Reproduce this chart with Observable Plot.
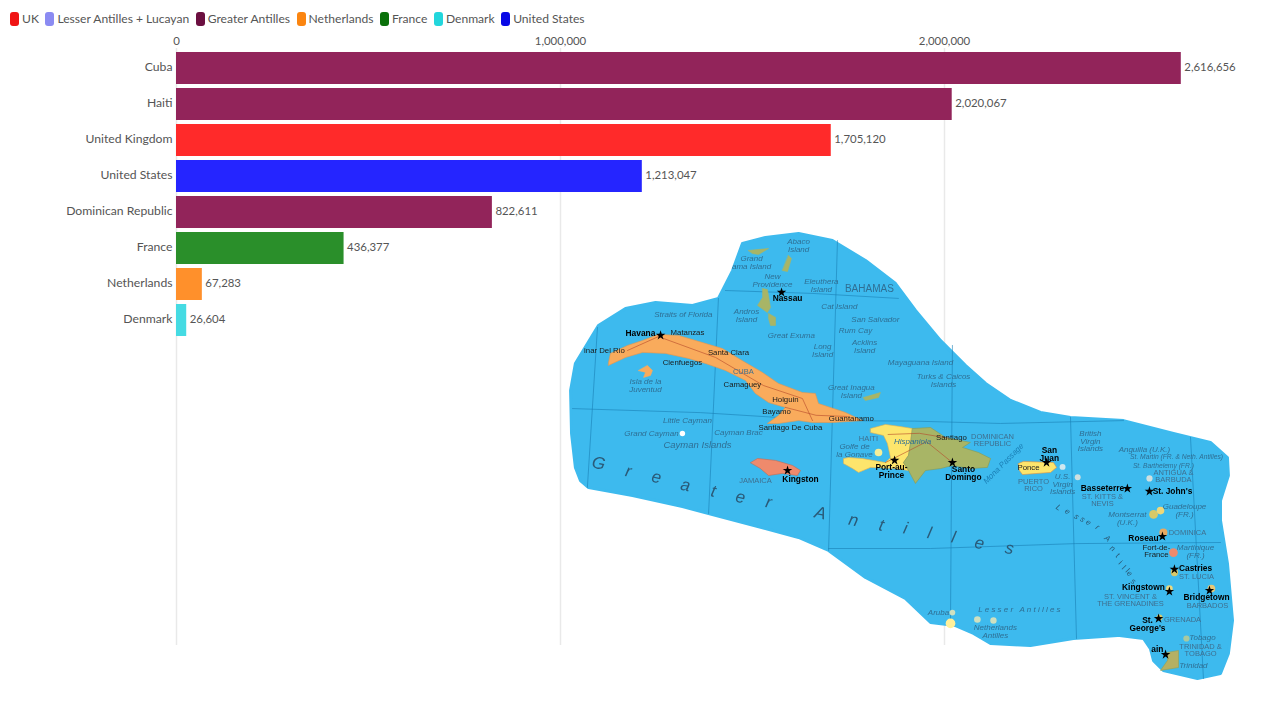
<!DOCTYPE html>
<html><head><meta charset="utf-8">
<style>
html,body{margin:0;padding:0;background:#fff;width:1280px;height:720px;overflow:hidden}
#legend{height:30px;box-sizing:border-box;padding:11px 0 0 10px;display:flex;font:12.1px Lato,sans-serif;color:#555;line-height:16px;transform:translateY(-2px)}
#legend span.i{display:flex;align-items:center;margin-right:6.5px}
#legend b{display:inline-block;width:9px;height:14px;border-radius:3px;margin-right:3px}
#wrap{position:relative;width:1280px;height:690px}
#map{position:absolute;left:0;top:-30px;pointer-events:none;filter:blur(0.25px)}
</style>
<script src="https://cdn.jsdelivr.net/npm/d3@7"></script>
<script src="https://cdn.jsdelivr.net/npm/@observablehq/plot@0.6"></script>
</head><body>
<div id="legend"></div>
<div id="wrap"><div id="chart"></div><div id="map"></div></div>
<script>
// ---------- bar chart data ----------
const countries = ["Cuba","Haiti","United Kingdom","United States","Dominican Republic","France","Netherlands","Denmark"];
const populations = [2616656,2020067,1705120,1213047,822611,436377,67283,26604];
const groups = ["Greater Antilles","Greater Antilles","UK","United States","Greater Antilles","France","Netherlands","Denmark"];
const legendNames = ["UK","Lesser Antilles + Lucayan","Greater Antilles","Netherlands","France","Denmark","United States"];
const legendColors = ["#f01414","#8b8bf2","#6b0f40","#fb8510","#0a700a","#22d6dc","#0808e6"];
const barColors = ["#ff2a2a","#9a9af5","#92245a","#ff902b","#2a8f2a","#45dbe3","#2525ff"];
const axisTicks = [0,1000000,2000000];

// ---------- map data, degrees [lon, lat] ----------
const seaOutline = [[-78.67,27.46],[-77.71,27.71],[-76.33,27.88],[-74.92,27.58],[-73.54,26.75],[-72.29,25.79],[-71.46,24.67],[-70.42,23.42],[-69.38,22.38],[-68.54,21.63],[-67.5,20.92],[-66.25,20.42],[-65,20.21],[-62.79,20.08],[-60.71,19.54],[-59.17,19.17],[-58.46,18.54],[-58.42,17.79],[-58.75,16.75],[-58.75,15.92],[-58.46,14.13],[-58.25,11.75],[-58.42,10.38],[-58.75,9.54],[-59.71,9.33],[-61.13,9.67],[-61.54,10.08],[-61.67,10.58],[-61.96,11],[-63.04,11.13],[-64.88,11],[-66.67,10.71],[-68.33,10.79],[-69.04,11.21],[-69.79,11.54],[-70.83,11.67],[-71.88,12.67],[-73.54,13.54],[-75.08,14.67],[-76.33,15.21],[-77.71,15.58],[-80.08,16.21],[-81.17,16.5],[-83.25,16.96],[-85.08,17.29],[-85.42,17.58],[-85.63,18.13],[-85.79,19.54],[-85.83,21.33],[-85.63,22.46],[-84.67,24.04],[-83.54,24.75],[-82.29,25],[-80.75,24.88],[-79.67,25.17],[-79.08,26.33]];
const cuba = [[-84.25,22.5],[-84.17,22.88],[-83.46,23.21],[-82.83,23.42],[-82.17,23.67],[-81.33,23.63],[-80.33,23.33],[-79.5,23.08],[-78.83,22.67],[-77.83,22.08],[-77.17,21.63],[-76.17,21.25],[-75.63,21.21],[-75.5,20.79],[-74.38,20.42],[-73.67,20.08],[-74.92,20],[-75.75,20],[-76.33,20.08],[-77.17,19.96],[-77.63,19.96],[-77.17,20.29],[-76.88,20.63],[-77.58,20.83],[-78.13,21.21],[-78.54,21.75],[-79.38,22.17],[-80.21,22.46],[-80.92,22.67],[-81.88,22.88],[-82.83,22.92],[-83.54,22.71],[-84.25,22.38]];
const juventud = [[-83,22.17],[-82.63,22.38],[-82.42,22.17],[-82.5,21.96],[-82.79,21.88],[-82.71,22.08]];
const jamaica = [[-78.33,18.33],[-78.04,18.5],[-77.29,18.42],[-76.58,18.21],[-76.25,18],[-76.38,17.79],[-77,17.88],[-77.58,17.79],[-77.92,18.08]];
const haiti = [[-73.33,19.75],[-72.71,19.92],[-72.08,19.83],[-71.58,19.75],[-71.67,19.13],[-71.75,18.63],[-71.96,18.33],[-71.75,18],[-72.29,18.08],[-73.33,18.13],[-73.83,17.92],[-74.08,18.08],[-74.46,18.29],[-74.46,18.5],[-74.25,18.54],[-73.67,18.5],[-72.71,18.33],[-72.5,18.54],[-72.63,19.13],[-72.79,19.46],[-73.33,19.58]];
const dominican = [[-71.58,19.75],[-70.83,19.79],[-70.21,19.38],[-69.17,19.17],[-69.5,18.96],[-68.83,18.75],[-68.33,18.5],[-68.46,18.13],[-69.17,18.08],[-69.92,18.21],[-70.42,18.08],[-71.04,18],[-71.46,17.46],[-71.75,18],[-71.96,18.33],[-71.75,18.63],[-71.67,19.13]];
const puertoRico = [[-67.17,18.29],[-66.96,18.38],[-65.71,18.33],[-65.58,18.13],[-65.83,17.92],[-67,17.83],[-67.13,18]];
const trinidad = [[-60.96,10.42],[-60.5,10.5],[-60.5,9.79],[-61.25,9.67],[-60.96,10.08]];
const andros = [[-77.83,25.58],[-77.63,25.54],[-77.5,24.79],[-77.63,24.58],[-78.04,24.88],[-77.83,25.21]];
const southAndros = [[-77.58,24.54],[-77.29,24.38],[-77.29,24.04],[-77.5,24.04],[-77.58,24.33]];
const grandBahama = [[-78.42,27.17],[-77.58,27.25],[-78,27],[-78.25,27.04]];
const abaco = [[-76.75,26.96],[-76.63,26.83],[-76.79,26.29],[-77,26.33]];
const greatInagua = [[-73.63,21.04],[-72.92,21.25],[-73,21.04],[-73.54,20.92]];
const gridLines = [
 [[-84.71,23.96],[-85.13,17.29]],[[-79.67,25.17],[-80.08,16.21]],[[-74.71,27.58],[-75.08,14.67]],
 [[-69.92,23.21],[-70,11.67]],[[-65,20.21],[-64.75,11]],[[-60,19.38],[-59.46,9.33]],
 [[-79.38,25.5],[-72.17,25.17]],[[-85.75,20.58],[-75.08,20.08],[-67.92,19.96],[-62.79,20.08]],
 [[-75.08,14.75],[-70.83,14.75],[-58.75,15]]];
const roads = [
 [[-83.46,23],[-82.17,23.58],[-79.79,22.71],[-77.79,21.54],[-76.17,21],[-75.75,20.08]],
 [[-76.88,20.63],[-75.6,20.3],[-74.3,20.25]],
 [[-72.71,18.33],[-71,19.2],[-69.92,18.33]],[[-72.6,19.5],[-71.3,19.55],[-70.1,19.35]]];
const smallIslands = [
 ["#d8c968",-61.54,16.17,2.6],["#f0d878",-61.25,16.33,2],["#e8a860",-61.13,15.42,2.2],["#ef8a6c",-60.71,14.58,2.6],
 ["#d8c968",-60.67,13.75,1.8],["#e8d880",-60.88,13.08,1.5],["#e8c878",-59.13,13.08,2],["#d8c968",-61.29,11.88,1.2],
 ["#a9c9a0",-60.17,11,1.3],["#cfe0c0",-69.92,12.08,1.1],["#cfe0c0",-68.88,11.79,1.5],["#cfe0c0",-68.21,11.75,1.4],
 ["#cfe0e0",-61.71,17.67,1.3],["#ffffff",-81.17,19.54,1],["#f5ef9a",-73,18.75,2],["#fff09a",-70,11.63,3.2],
 ["#cfe8f0",-65.33,18.15,1.2],["#cfe0e0",-64.7,17.72,1.2]];
const capitalStars = [[-82.08,23.63],[-77.04,25.42],[-76.79,18],[-72.33,18.42],[-69.92,18.33],[-66,18.33],[-62.63,17.25],[-61.71,17.13],[-61.17,15.25],[-60.67,13.88],[-60.88,12.96],[-59.21,13],[-61.33,11.83],[-61.04,10.33]];
const capitalLabels = [["Havana",-82.92,23.71],["Nassau",-76.79,25.17],["Kingston",-76.25,17.63],["Port-au-\nPrince",-72.46,17.96],["Santo\nDomingo",-69.46,17.88],["San\nJuan",-65.88,18.67],["Basseterre",-63.67,17.25],["St. John's",-60.75,17.13],["Roseau",-61.96,15.17],["Castries",-59.79,13.92],["Kingstown",-61.96,13.13],["Bridgetown",-59.33,12.71],["St.\nGeorge's",-61.79,11.58],["ain",-61.38,10.54]];
const cityLabels = [["Matanzas",-80.96,23.75],["inar Del Rio",-84.42,23],["Santa Clara",-79.25,22.92],["Cienfuegos",-81.17,22.5],["Camaguey",-78.67,21.58],["Holguin",-76.88,20.96],["Bayamo",-77.25,20.46],["Guantanamo",-74.13,20.17],["Santiago De Cuba",-76.67,19.79],["Santiago",-69.96,19.38],["Ponce",-66.75,18.13],["Fort-de-\nFrance",-61.42,14.63]];
const countryLabels = [["CUBA",-78.63,22.13],["HAITI",-73.42,19.33],["JAMAICA",-78.13,17.58],["DOMINICAN\nREPUBLIC",-68.25,19.25],["PUERTO\nRICO",-66.54,17.38],["ANTIGUA &\nBARBUDA",-60.71,17.75],["ST. KITTS &\nNEVIS",-63.67,16.75],["DOMINICA",-60.13,15.42],["ST. LUCIA",-59.75,13.58],["ST. VINCENT &\nTHE GRENADINES",-62.5,12.58],["BARBADOS",-59.29,12.38],["GRENADA",-60.33,11.79],["TRINIDAD &\nTOBAGO",-59.58,10.5]];
const bahamasLabel = [["BAHAMAS",-73.38,25.58]];
const seaLabels = [["Abaco\nIsland",-76.33,27.38],["Grand\nama Island",-78.29,26.67],["New\nProvidence",-77.42,25.92],["Eleuthera\nIsland",-75.38,25.71],["Cat Island",-74.63,24.83],["San Salvador",-73.13,24.29],["Rum Cay",-73.96,23.83],["Andros\nIsland",-78.5,24.46],["Great Exuma",-76.63,23.63],["Long\nIsland",-75.33,23],["Acklins\nIsland",-73.58,23.17],["Mayaguana Island",-71.25,22.5],["Turks & Caicos\nIslands",-70.29,21.75],["Great Inagua\nIsland",-74.13,21.29],["Straits of Florida",-81.13,24.5],["Isla de la\nJuventud",-82.71,21.54],["Little Cayman",-80.96,20.08],["Grand Cayman",-82.46,19.54],["Cayman Brac",-78.83,19.58],["Golfe de\nla Gonave",-74,18.83],["Hispaniola",-71.58,19.21],["British\nVirgin\nIslands",-64.17,19.21],["U.S.\nVirgin\nIslands",-65.33,17.42],["Anguilla (U.K.)",-61.92,18.88],["Montserrat\n(U.K.)",-62.63,16],["Guadeloupe\n(FR.)",-60.25,16.33],["Martinique\n(FR.)",-59.79,14.63],["Tobago",-59.5,11.04],["Trinidad",-59.88,9.88],["Netherlands\nAntilles",-68.13,11.29],["Aruba",-70.5,12.08],["L e s s e r   A n t i l l e s",-67.13,12.21]];
const stMartinLabels = [["St. Martin (FR. & Neth. Antilles)",-60.58,18.56],["St. Barthelemy (FR.)",-61.13,18.21]];
const caymanLabel = [["Cayman Islands",-80.54,19.04]];
const monaLabel = [["Mona Passage",-67.79,18.29]];
const greaterLetters = [["G",-84.67,18.29],["r",-83.42,17.96],["e",-82.25,17.71],["a",-81.04,17.38],["t",-79.88,17.13],["e",-78.75,16.88],["r",-77.58,16.67],["A",-75.42,16.21],["n",-74.04,15.92],["t",-72.88,15.71],["i",-71.88,15.58],["l",-70.88,15.38],["l",-69.88,15.21],["e",-68.79,14.96],["s",-67.54,14.75]];
const lesserLetters = [["L",-65.5,16.46],["e",-65.13,16.29],["s",-64.75,16.08],["s",-64.5,15.96],["e",-64.25,15.83],["r",-63.88,15.63],["A",-63.46,15.17],["n",-63.25,14.75],["t",-63.04,14.46],["i",-62.92,14.17],["l",-62.79,13.96],["l",-62.63,13.83],["e",-62.54,13.71],["s",-62.38,13.38]];

// ---------- legend ----------
const legend = document.getElementById("legend");
legendNames.forEach((n,i)=>{
  const s=document.createElement("span");s.className="i";
  const b=document.createElement("b");b.style.background=legendColors[i];
  s.append(b,document.createTextNode(n));legend.append(s);
});

// ---------- bar chart ----------
const rows = countries.map((c,i)=>({country:c,value:populations[i],group:groups[i]}));
const chartFont = "Lato, sans-serif";
document.getElementById("chart").append(Plot.plot({
  width:1280,height:690,marginLeft:176,marginRight:0,marginTop:18,marginBottom:75,
  style:{fontFamily:chartFont,fontSize:"12px",color:"#555",background:"transparent"},
  x:{domain:[0,2875000],axis:null},
  y:{type:"band",domain:countries,range:[18,310],padding:0.111,round:false,axis:null},
  color:{domain:legendNames,range:barColors},
  marks:[
    Plot.ruleX(axisTicks,{stroke:"#e9e9e9",strokeWidth:1.5}),
    Plot.barX(rows,{x:"value",y:"country",fill:"group"}),
    Plot.text(rows,{x:"value",y:"country",text:d=>d3.format(",")(d.value),dx:3,dy:-1,textAnchor:"start",fill:"#555",fontSize:11.4}),
    Plot.axisY({anchor:"left",tickSize:0,tickPadding:4,dy:-1,fontSize:12.2,label:null,color:"#555"}),
    Plot.axisX(axisTicks,{anchor:"top",tickSize:0,tickPadding:4,fontSize:11.4,label:null,tickFormat:d3.format(","),color:"#555"})
  ]
}));

// ---------- map overlay (geographic) ----------
const degScale = 24*180/Math.PI;
const projection = d3.geoEquirectangular().scale(degScale).translate([710+80*24,422+20*24]);
const poly = r => ({type:"Polygon",coordinates:[[...r,r[0]]]});
const land = (r,fill,stroke) => Plot.geo([poly(r)],{fill,stroke:stroke||fill,strokeWidth:0.6});
const labels = (rows,o) => Plot.text(rows,{x:d=>d[1],y:d=>d[2],text:d=>d[0],lineHeight:0.95,...o});
const A="Liberation Sans, Arial, sans-serif";
document.getElementById("map").append(Plot.plot({
  width:1280,height:720,margin:0,projection,
  style:{background:"transparent",overflow:"visible"},
  marks:[
    Plot.geo([poly(seaOutline)],{fill:"#3dbaee",stroke:"#3dbaee",strokeWidth:3,strokeLinejoin:"round"}),
    Plot.geo(gridLines.map(c=>({type:"LineString",coordinates:c})),{stroke:"#1a7fb5",strokeWidth:0.6}),
    land(cuba,"#f9ab5c","#e8964a"),land(juventud,"#f9ab5c"),
    land(jamaica,"#ef8a6c","#c86a50"),land(haiti,"#fde56c","#e0b050"),land(dominican,"#a8b566","#8a9a50"),
    land(puertoRico,"#fde56c","#e09040"),land(trinidad,"#b5b064","#98a050"),
    land(andros,"#a8b566"),land(southAndros,"#a8b566"),land(grandBahama,"#a8b566"),land(abaco,"#a8b566"),land(greatInagua,"#a8b566"),
    Plot.geo(roads.map(c=>({type:"LineString",coordinates:c})),{stroke:"#b5482a",strokeWidth:0.6}),
    Plot.dot(smallIslands,{x:d=>d[1],y:d=>d[2],r:d=>d[3],fill:d=>d[0],stroke:"none"}),
    Plot.dot(capitalStars,{x:d=>d[0],y:d=>d[1],symbol:"star",r:3,fill:"#000",stroke:"none"}),
    labels(seaLabels,{fontFamily:A,fontStyle:"italic",fontSize:8,fill:"#2f6f94"}),
    labels(stMartinLabels,{fontFamily:A,fontStyle:"italic",fontSize:6.7,fill:"#2f6f94"}),
    labels(countryLabels,{fontFamily:A,fontSize:7.5,fill:"#3f6f8f"}),
    labels(bahamasLabel,{fontFamily:A,fontSize:10,fill:"#2f6f94"}),
    labels(cityLabels,{fontFamily:A,fontSize:7.8,fill:"#1a1a1a"}),
    labels(capitalLabels,{fontFamily:A,fontWeight:"bold",fontSize:8.4,fill:"#000"}),
    labels(caymanLabel,{fontFamily:A,fontStyle:"italic",fontSize:9.5,fill:"#2f6f94"}),
    labels(monaLabel,{fontFamily:A,fontStyle:"italic",fontSize:8,fill:"#1a7fb5",rotate:-45}),
    labels(greaterLetters,{fontFamily:A,fontStyle:"italic",fontSize:17,fill:"#2a5a78",rotate:12}),
    labels(lesserLetters,{fontFamily:A,fontStyle:"italic",fontSize:8,fill:"#2a5a78",rotate:35})
  ]
}));
</script>
</body></html>
